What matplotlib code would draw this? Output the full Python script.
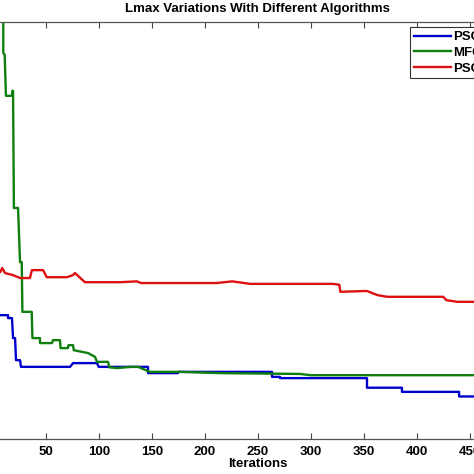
import matplotlib
matplotlib.use("Agg")
import matplotlib.pyplot as plt

plt.rcParams['font.family'] = ['Liberation Sans', 'DejaVu Sans']

# Data (y in arbitrary units, 0 = bottom of axes, 100 = top)
blue_it = [1, 14.5, 14.5, 18.2, 19.2, 21.1, 22, 25.8, 26.7, 73, 75.8, 98.4, 100, 146.5,
           146.5, 174.8, 174.8, 263.5, 263.5, 271, 271, 353.1, 353.1, 386.1, 386.1,
           440, 440, 500]
blue_y = [29.7, 29.7, 29.0, 29.0, 24.2, 24.2, 18.9, 18.9, 17.3, 17.3, 18.2, 18.2, 17.3, 17.3,
          15.8, 15.8, 16.1, 16.1, 14.9, 14.9, 14.6, 14.6, 12.3, 12.3, 11.3,
          11.3, 10.2, 10.2]

green_it = [1, 10, 10, 11.3, 12.5, 18.2, 18.6, 19.2, 20, 23.9, 25.8, 27.4, 28, 36.8, 37.5,
            44.6, 44.6, 55.9, 56.9, 63.5, 64, 71, 71.5, 75.8, 76.5, 90, 96.5, 98.4, 108.8,
            110, 117.3, 130, 137, 146.5, 148.4, 176.7, 214.4, 289.9, 300, 500]
green_y = [130, 130, 92.6, 92.1, 82.3, 82.3, 83.5, 83.5, 55.4, 55.4, 42.4, 42.4, 30.5, 30.5, 24.2,
           24.2, 23.0, 23.0, 23.7, 23.7, 21.8, 21.8, 22.5, 22.5, 21.3, 20.6, 19.7, 18.5, 18.5,
           17.2, 17.0, 17.3, 17.3, 16.3, 16.1, 16.1, 15.8, 15.6, 15.3, 15.3]

red_it = [1, 7, 9, 11.6, 19.2, 25.8, 35.1, 37, 47.5, 51, 70, 75.8, 77.6, 87, 120, 136, 140,
          211, 226, 243, 321, 327, 328, 353, 363, 372, 425, 428, 438, 500]
red_y = [40.0, 40.0, 41.0, 39.8, 39.3, 38.6, 38.6, 40.5, 40.5, 38.8, 38.8, 39.3, 39.8, 37.6,
         37.6, 37.8, 37.4, 37.4, 37.8, 37.2, 37.2, 37.0, 35.3, 35.5, 34.5, 34.1, 34.1, 33.3,
         32.9, 32.9]

labels = ["PSO-MFO", "MFO", "PSO"]
colors = ["#0000cc", "#0f7f0f", "#dd1111"]
xticks = list(range(0, 501, 50))

W = 474
fig = plt.figure(figsize=(W / 100, W / 100), dpi=100)
left = -7.3 / W
right = 522.7 / W
bottom = (W - 439) / W
top = (W - 22) / W
ax = fig.add_axes([left, bottom, right - left, top - bottom])

ax.plot(blue_it, blue_y, color=colors[0], lw=1.7, label=labels[0])
ax.plot(green_it, green_y, color=colors[1], lw=1.7, label=labels[1])
ax.plot(red_it, red_y, color=colors[2], lw=1.7, label=labels[2])

ax.set_xlim(0, 500)
ax.set_ylim(0, 100)
ax.set_xticks(xticks)
ax.set_xticklabels([str(t) for t in xticks], fontweight='bold', fontsize=9.5)
ax.tick_params(axis='x', direction='in', length=4, top=True, pad=5, color='#444444')
ax.tick_params(axis='y', direction='in', length=4, right=True, labelleft=False)
for s in ax.spines.values():
    s.set_color('#555555')
    s.set_linewidth(0.9)

ax.set_xlabel("Iterations", fontweight='bold', fontsize=9.5, labelpad=0)
fig.text(257.7 / W, 1 - 9 / W, "Lmax Variations With Different Algorithms",
         ha='center', va='center', fontweight='bold', fontsize=9.5)

leg = fig.legend(loc='upper left', bbox_to_anchor=(410 / W, 1 - 27 / W),
                 prop={'weight': 'bold', 'size': 9.5}, handlelength=2.8,
                 handletextpad=0.2, borderpad=0.3, labelspacing=0.26,
                 fancybox=False, framealpha=1, edgecolor='#333333', borderaxespad=0)
leg.get_frame().set_linewidth(0.8)

fig.savefig("out.png", dpi=100)
